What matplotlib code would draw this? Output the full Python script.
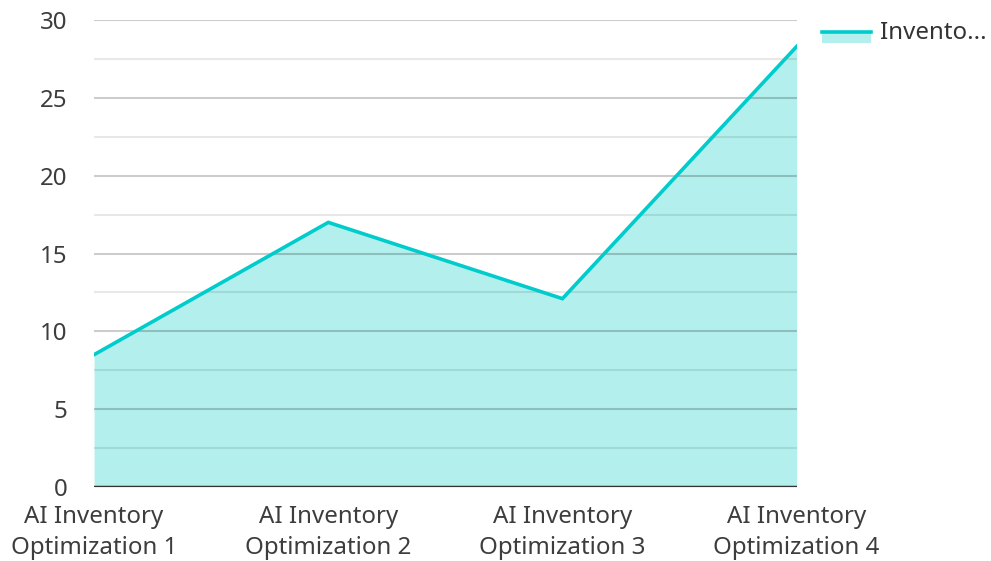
import matplotlib.pyplot as plt
from matplotlib.patches import Rectangle
from matplotlib.lines import Line2D

categories = ["AI Inventory\nOptimization 1", "AI Inventory\nOptimization 2",
              "AI Inventory\nOptimization 3", "AI Inventory\nOptimization 4"]
values = [8.5, 17.0, 12.1, 28.3]
series_name = "Invento..."

line_color = "#00cccc"
fill_color = "#b2efed"

plt.rcParams['font.family'] = ['Noto Sans', 'DejaVu Sans']

fig = plt.figure(figsize=(9.91, 5.61), dpi=100)
ax = fig.add_axes([0.0949, 0.1319, 0.709, 0.8324])

x = list(range(len(categories)))
ax.fill_between(x, values, 0, color=fill_color, lw=0, zorder=1)
ax.plot(x, values, color=line_color, lw=2.6, zorder=4, solid_joinstyle='miter')

# grid lines (drawn over the fill, semi-transparent)
for v in [2.5, 7.5, 12.5, 17.5, 22.5, 27.5]:
    ax.axhline(v, color="#000000", alpha=0.09, lw=1.5, zorder=2)
for v in [5, 10, 15, 20, 25, 30]:
    ax.axhline(v, color="#000000", alpha=0.2, lw=1.5, zorder=2)
ax.axhline(0, color="#333333", lw=2.5, zorder=5)

ax.set_xlim(0, len(categories) - 1)
ax.set_ylim(0, 30)
ax.set_yticks([0, 5, 10, 15, 20, 25, 30])
ax.set_xticks(x)
ax.set_xticklabels(categories, linespacing=1.38)
ax.tick_params(axis='both', length=0, labelsize=17.3, labelcolor="#3d3d3d")
ax.tick_params(axis='y', pad=19)
ax.tick_params(axis='x', pad=13)
for s in ax.spines.values():
    s.set_visible(False)

# legend
W, H = 991, 561
fig.add_artist(Rectangle((822 / W, 1 - 43 / H), 49 / W, 12 / H,
                         transform=fig.transFigure, color=fill_color, lw=0))
fig.add_artist(Line2D([822 / W, 871 / W], [1 - 32 / H, 1 - 32 / H],
                      transform=fig.transFigure, color=line_color, lw=2.6))
fig.text(880 / W, 1 - 33 / H, series_name, fontsize=17.3, color="#333333",
         va='center', ha='left')

fig.savefig("out.png", dpi=100)
